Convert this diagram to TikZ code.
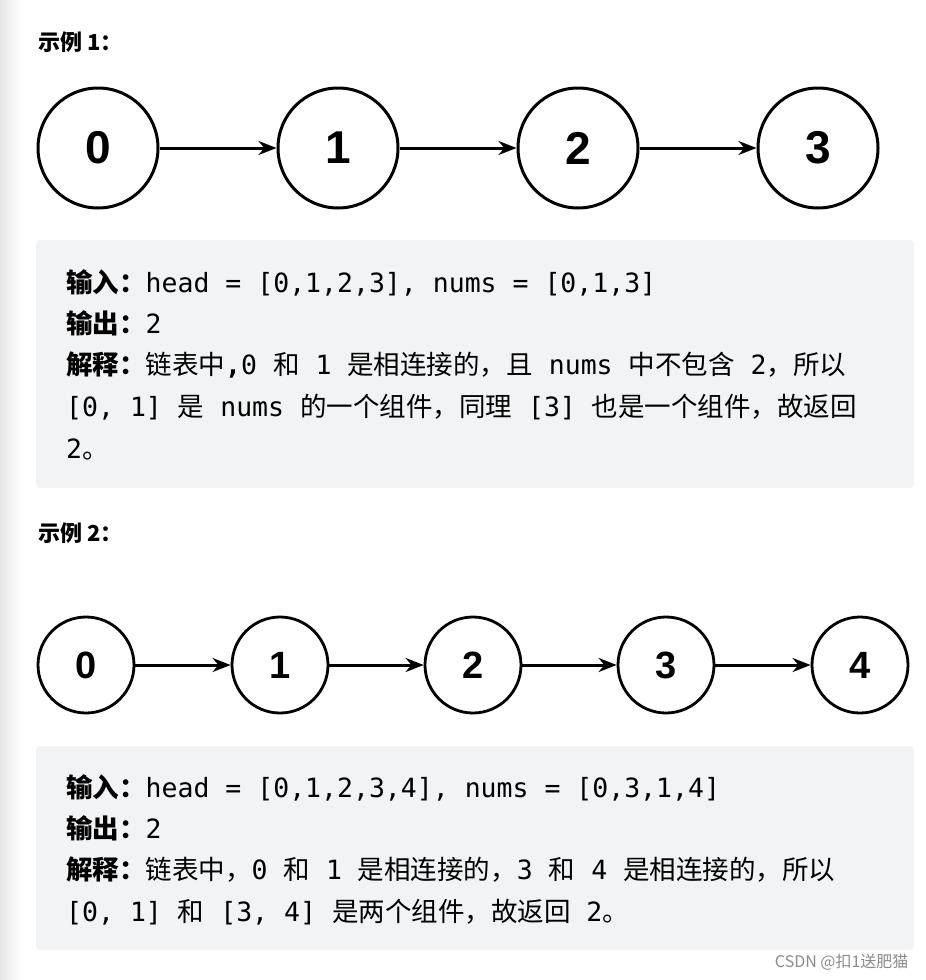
\documentclass[tikz,border=0pt]{standalone}
\usepackage{fontspec}
\usetikzlibrary{arrows.meta}
\setmainfont{Noto Sans CJK SC}
\setsansfont{Liberation Sans}
\setmonofont{DejaVu Sans Mono}
\definecolor{boxbg}{HTML}{F2F3F5}
\newcommand{\tsp}{\texttt{\ }}
\begin{document}
\begin{tikzpicture}[x=1pt,y=-1pt,
  nodeA/.style={circle,draw,line width=3pt,minimum size=120pt,inner sep=0,font=\sffamily\bfseries\fontsize{46}{46}\selectfont},
  nodeB/.style={circle,draw,line width=2.8pt,minimum size=96pt,inner sep=0,font=\sffamily\bfseries\fontsize{38}{38}\selectfont},
  arr/.style={-{Stealth[length=18pt,width=14pt]},line width=3pt},
  box/.style={fill=boxbg,rounded corners=4pt},
  head/.style={anchor=west,inner sep=0,font=\bfseries\fontsize{22}{22}\selectfont},
  txt/.style={anchor=west,inner sep=0,font=\fontsize{26.5}{26.5}\selectfont}]
\path[use as bounding box,fill=white] (0,0) rectangle (926,980);
\fill[left color=black!10,right color=white] (0,0) rectangle (22,980);
\node[head] (h1) at (38,42) {示例 1：};
\node[nodeA] (a0) at (98,148) {0};
\node[nodeA] (a1) at (338,148) {1};
\node[nodeA] (a2) at (578,148) {2};
\node[nodeA] (a3) at (818,148) {3};
\draw[arr] (a0) -- (a1); \draw[arr] (a1) -- (a2); \draw[arr] (a2) -- (a3);
\path[box] (36,240) rectangle (914,488);
\node[txt] (l1) at (66,283) {\textbf{输入：}\texttt{head = [0,1,2,3], nums = [0,1,3]}};
\node[txt] (l2) at (66,323) {\textbf{输出：}\texttt{2}};
\node[txt] (l3) at (66,365) {\textbf{解释：}链表中\texttt{\textbf{,}0}\tsp 和\tsp\texttt{1}\tsp 是相连接的，且\tsp\texttt{nums}\tsp 中不包含\tsp\texttt{2}，所以};
\node[txt] (l4) at (66,407) {\texttt{[0, 1]}\tsp 是\tsp\texttt{nums}\tsp 的一个组件，同理\tsp\texttt{[3]}\tsp 也是一个组件，故返回};
\node[txt] (l5) at (66,449) {\texttt{2}。};
\node[head] (h2) at (38,533) {示例 2：};
\node[nodeB] (b0) at (86,665) {0};
\node[nodeB] (b1) at (280,665) {1};
\node[nodeB] (b2) at (473,665) {2};
\node[nodeB] (b3) at (666,665) {3};
\node[nodeB] (b4) at (860,665) {4};
\draw[arr] (b0) -- (b1); \draw[arr] (b1) -- (b2); \draw[arr] (b2) -- (b3); \draw[arr] (b3) -- (b4);
\path[box] (36,746) rectangle (914,950);
\node[txt] (m1) at (66,788) {\textbf{输入：}\texttt{head = [0,1,2,3,4], nums = [0,3,1,4]}};
\node[txt] (m2) at (66,828) {\textbf{输出：}\texttt{2}};
\node[txt] (m3) at (66,870) {\textbf{解释：}链表中，\texttt{0}\tsp 和\tsp\texttt{1}\tsp 是相连接的，\texttt{3}\tsp 和\tsp\texttt{4}\tsp 是相连接的，所以};
\node[txt] (m4) at (66,912) {\texttt{[0, 1]}\tsp 和\tsp\texttt{[3, 4]}\tsp 是两个组件，故返回\tsp\texttt{2}。};
\node[anchor=east,text=black!45,font=\fontsize{16}{16}\selectfont] (wm) at (912,962) {CSDN @扣1送肥猫};
\end{tikzpicture}
\end{document}
